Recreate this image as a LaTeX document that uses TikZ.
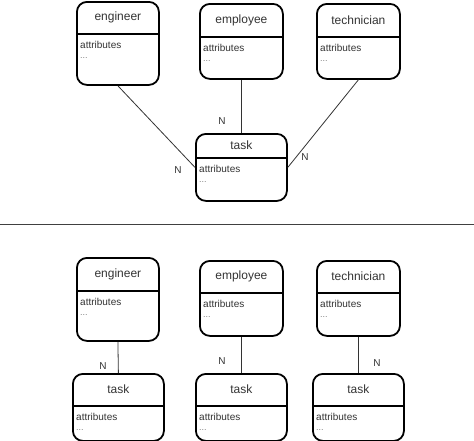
\documentclass[tikz,border=0pt]{standalone}
\usepackage{fontspec}
\setmainfont{Liberation Sans}
\usetikzlibrary{calc,positioning}
\definecolor{ink}{gray}{0.2}

\begin{document}
\begin{tikzpicture}[x=1pt,y=-1pt]

\tikzset{entity/.style={draw=black,line width=1.8pt,rounded corners=10pt,anchor=north west,inner sep=0pt},
divider/.style={line width=1.6pt},
title/.style={font=\fontsize{12}{14}\selectfont,text=ink,inner sep=0pt},
attr/.style={font=\fontsize{10}{12}\selectfont,text=ink,anchor=west,inner sep=0pt},
dots/.style={font=\fontsize{9}{10}\selectfont,text=black!50,anchor=west,inner sep=0pt},
link/.style={line width=0.8pt,draw=black!80},
card/.style={font=\fontsize{10}{12}\selectfont,text=ink,inner sep=0pt}}

\useasboundingbox (0,0) rectangle (474,440);

% Entities (name/x/y/width/height/header/title)
\foreach \nm/\x/\y/\w/\h/\hd/\ttl in {eng1/76/1/82/83/33/engineer, emp1/199/3/83/75/34/employee, tec1/316/3/83/75/34/technician, task1/195/133/91/67/25/task,
eng2/76/257/82/83/34/engineer, emp2/199/260/83/75/33/employee, tec2/316/260/83/75/33/technician,
task2a/72/373/91/67/33/task, task2b/195/373/91/67/33/task, task2c/312/373/91/67/33/task} {
  \node[entity,minimum width=\w pt,minimum height=\h pt] (\nm) at (\x,\y) {};
  \draw[divider] ($(\nm.north west)+(0,\hd)$) -- ($(\nm.north east)+(0,\hd)$);
  \node[title] (\nm-title) at ($(\nm.north)+(0,\hd/2)$) {\ttl};
  \node[attr] (\nm-attr) at ($(\nm.north west)+(4,\hd+11)$) {attributes};
  \node[dots] (\nm-dots) at ($(\nm.north west)+(4,\hd+24)$) {...};
}

% Top: one shared task
\draw[link] (eng1.south) -- (task1.west);
\draw[link] (emp1.south) -- (task1.north);
\draw[link] (tec1.south) -- (task1.east);
\node[card] (n1) at (178,170) {N};
\node[card] (n2) at (222,121) {N};
\node[card] (n3) at (305,157) {N};

% Separator
\coordinate (sepL) at (0,224);
\coordinate (sepR) at (474,224);
\draw[line width=0.8pt,draw=black!75] (sepL) -- (sepR);

% Bottom: one task each
\draw[link] (eng2.south) -- (task2a.north);
\draw[link] (emp2.south) -- (task2b.north);
\draw[link] (tec2.south) -- (task2c.north);
\node[card] (n4) at (103,366) {N};
\node[card] (n5) at (222,361) {N};
\node[card] (n6) at (377,363) {N};

\end{tikzpicture}
\end{document}
